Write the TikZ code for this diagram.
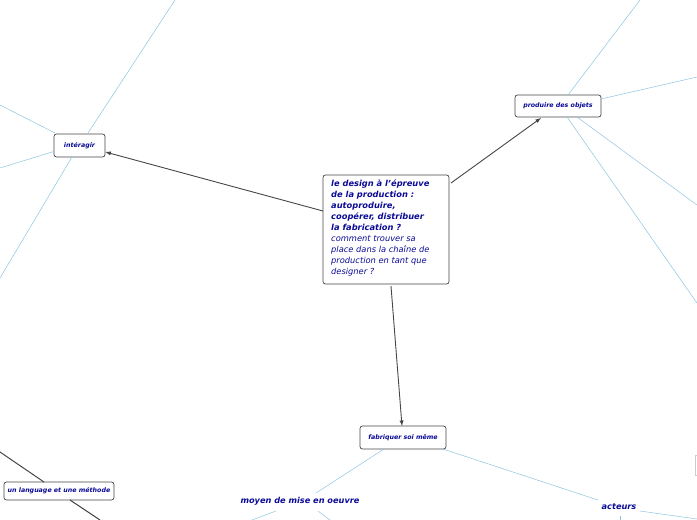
\documentclass[tikz,border=0pt]{standalone}
\usepackage{fontspec}
\setmainfont{DejaVu Sans}
\definecolor{tx}{RGB}{10,10,150}
\definecolor{lb}{RGB}{140,195,225}
\definecolor{dk}{RGB}{70,70,70}
\begin{document}
\begin{tikzpicture}[x=1pt,y=-1pt,
  box/.style={draw=dk,rounded corners=2.5pt,fill=white,line width=0.7pt,font=\fontsize{6.3}{7}\selectfont\bfseries\itshape,text=tx,inner sep=0pt,align=center},
  lbl/.style={font=\fontsize{8.2}{9}\selectfont\bfseries\itshape,text=tx,inner sep=1pt},
  thin/.style={draw=lb,line width=0.5pt},
  arr/.style={draw=dk,line width=0.9pt,-latex}]
\useasboundingbox (0,0) rectangle (697,520);
\coordinate (t1) at (175,0); \coordinate (t2) at (0,105); \coordinate (t3) at (0,168); \coordinate (t4) at (0,278);
\coordinate (p1) at (640,0); \coordinate (p2) at (697,77); \coordinate (p3) at (697,205); \coordinate (p4) at (697,303);
\coordinate (m1) at (252,520); \coordinate (m2) at (330,520); \coordinate (a1) at (620,520); \coordinate (a2) at (697,519);
\coordinate (d1) at (0,452); \coordinate (d2) at (100,520);
\node[box,minimum width=126pt,minimum height=109pt] (c) at (386,229.5) {};
\node[anchor=north west,align=left,text=tx,inner sep=0pt,font=\fontsize{8.3}{11}\selectfont\itshape] (ct) at (331,180) {{\bfseries le design à l'épreuve}\\{\bfseries de la production :}\\{\bfseries autoproduire,}\\{\bfseries coopérer, distribuer}\\{\bfseries la fabrication ?}\\comment trouver sa\\place dans la chaîne de\\production en tant que\\designer ?};
\node[box,minimum width=51pt,minimum height=23pt] (i) at (79.5,145.5) {intéragir};
\node[box,minimum width=86pt,minimum height=22pt] (p) at (558,106) {produire des objets};
\node[box,minimum width=86pt,minimum height=23pt] (f) at (403,437.5) {fabriquer soi même};
\node[box,minimum width=110pt,minimum height=18pt] (u) at (59,491) {un language et une méthode};
\node[lbl] (mo) at (300,501) {moyen de mise en oeuvre};
\node[lbl] (ac) at (619,506.5) {acteurs};
\draw[draw=black!20,fill=white] (695,455) rectangle (699,475);
\draw[thin] (88,133) -- (t1); \draw[thin] (55,133) -- (t2); \draw[thin] (i.west) ++(0,6) -- (t3); \draw[thin] (72,157) -- (t4);
\draw[thin] (568,95) -- (p1); \draw[thin] (601,99) -- (p2); \draw[thin] (577,117) -- (p3); \draw[thin] (567,117) -- (p4);
\draw[thin] (384,449) -- (316,493); \draw[thin] (443,449) -- (598,500);
\draw[thin] (276,511) -- (m1); \draw[thin] (318,511) -- (m2);
\draw[thin] (620,516) -- (a1); \draw[thin] (640,511) -- (a2);
\draw[draw=dk,line width=1pt] (d1) -- (44,482) (70,500) -- (d2);
\draw[arr] (323,211) -- (i.east|-0,152);
\draw[arr] (451,183) -- (541,118);
\draw[arr] (391,286) -- (402,426);
\end{tikzpicture}
\end{document}
